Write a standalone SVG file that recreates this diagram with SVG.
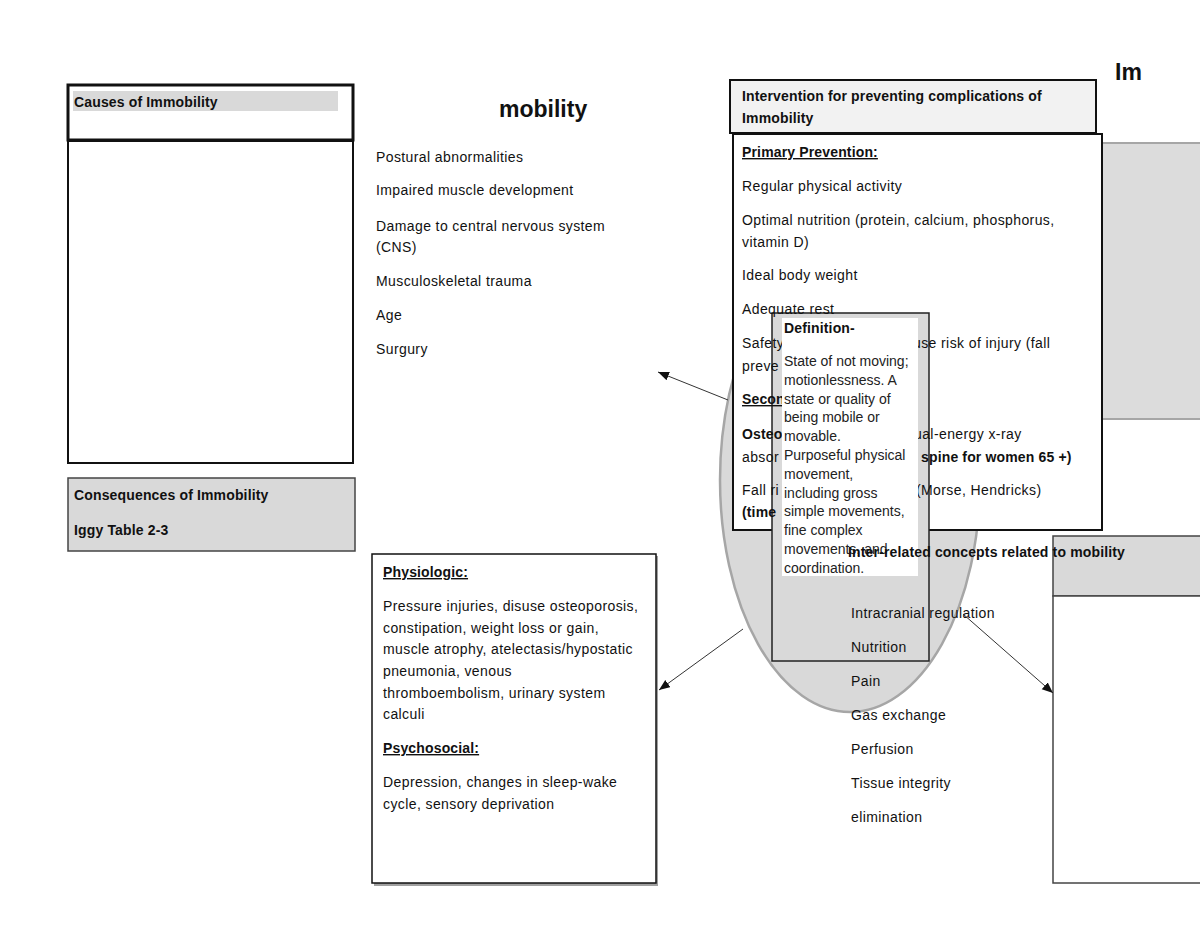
<svg xmlns="http://www.w3.org/2000/svg" width="1200" height="927" viewBox="0 0 1200 927">
<defs>
<style>
.t{font-family:"Liberation Sans",Arial,sans-serif;font-size:14px;letter-spacing:0.4px;fill:#111}
.b{font-family:"Liberation Sans",Arial,sans-serif;font-size:14px;letter-spacing:0.15px;font-weight:bold;fill:#111}
.u{text-decoration:underline}
.d{font-family:"Liberation Sans",Arial,sans-serif;font-size:14px;fill:#222}
.h{font-family:"Liberation Sans",Arial,sans-serif;font-size:23px;font-weight:bold;fill:#111}
.box{fill:#fff;stroke:#111;stroke-width:2}
.gray{fill:#d9d9d9;stroke:#444;stroke-width:1.5}
.conn{stroke:#333;stroke-width:1;fill:none;marker-end:url(#ah)}
</style>
<marker id="ah" markerUnits="userSpaceOnUse" markerWidth="12" markerHeight="10" refX="11" refY="4.5" orient="auto">
<path d="M0,0 L11,4.5 L0,9 z" fill="#111"/>
</marker>
</defs>
<rect width="1200" height="927" fill="#fff"/>

<g id="title">
<text class="h" x="499" y="117">mobility</text>
<text class="h" x="1115" y="80">Im</text>
</g>

<g id="causes-header">
<rect x="68" y="85" width="285" height="55" fill="#fff" stroke="#111" stroke-width="3"/>
<rect x="73" y="91" width="265" height="20" fill="#d9d9d9"/>
<text class="b" x="74" y="107">Causes of Immobility</text>
</g>
<g id="causes-body">
<rect class="box" x="68" y="141" width="285" height="322"/>
</g>

<g id="consequences">
<rect class="gray" x="68" y="478" width="287" height="73"/>
<text class="b" x="74" y="500">Consequences of Immobility</text>
<text class="b" x="74" y="535">Iggy Table 2-3</text>
</g>

<g id="causes-list">
<text class="t" x="376" y="162">Postural abnormalities</text>
<text class="t" x="376" y="195">Impaired muscle development</text>
<text class="t" x="376" y="231">Damage to central nervous system</text>
<text class="t" x="376" y="252">(CNS)</text>
<text class="t" x="376" y="286">Musculoskeletal trauma</text>
<text class="t" x="376" y="320">Age</text>
<text class="t" x="376" y="354">Surgury</text>
</g>

<g id="physiologic">
<rect x="374" y="556" width="284" height="330" fill="#a0a0a0"/>
<rect x="372" y="554" width="284" height="329" fill="#fff" stroke="#111" stroke-width="1.5"/>
<text class="b u" x="383" y="577">Physiologic:</text>
<text class="t" x="383" y="611">Pressure injuries, disuse osteoporosis,</text>
<text class="t" x="383" y="633">constipation, weight loss or gain,</text>
<text class="t" x="383" y="654">muscle atrophy, atelectasis/hypostatic</text>
<text class="t" x="383" y="676">pneumonia, venous</text>
<text class="t" x="383" y="698">thromboembolism, urinary system</text>
<text class="t" x="383" y="719">calculi</text>
<text class="b u" x="383" y="753">Psychosocial:</text>
<text class="t" x="383" y="787">Depression, changes in sleep-wake</text>
<text class="t" x="383" y="809">cycle, sensory deprivation</text>
</g>

<g id="top-right-box">
<rect x="1090" y="143" width="125" height="276" fill="#dcdcdc" stroke="#a6a6a6" stroke-width="2"/>
</g>

<g id="center-ellipse">
<ellipse cx="850" cy="480" rx="130" ry="232" fill="#d9d9d9" stroke="#a6a6a6" stroke-width="2.5"/>
</g>

<g id="intervention">
<rect x="730" y="80" width="366" height="53" fill="#f2f2f2" stroke="#111" stroke-width="2"/>
<text class="b" x="742" y="101">Intervention for preventing complications of</text>
<text class="b" x="742" y="123">Immobility</text>
<rect class="box" x="733" y="134" width="369" height="396"/>
<rect x="772" y="313" width="157" height="348" fill="#d9d9d9" stroke="#222" stroke-width="1.5"/>
<text class="b u" x="742" y="157">Primary Prevention:</text>
<text class="t" x="742" y="191">Regular physical activity</text>
<text class="t" x="742" y="225">Optimal nutrition (protein, calcium, phosphorus,</text>
<text class="t" x="742" y="247">vitamin D)</text>
<text class="t" x="742" y="280">Ideal body weight</text>
<text class="t" x="742" y="314">Adequate rest</text>
<text class="t" x="742" y="348">Safety</text>
<text class="t" x="913" y="348">use risk of injury (fall</text>
<text class="t" x="742" y="371">preve</text>
<text class="b u" x="742" y="404">Secon</text>
<text class="b" x="742" y="439">Osteo</text>
<text class="t" x="914" y="439">ual-energy x-ray</text>
<text class="t" x="742" y="462">absor</text>
<text class="b" x="921" y="462">spine for women 65 +)</text>
<text class="t" x="742" y="495">Fall ri</text>
<text class="t" x="916" y="495">(Morse, Hendricks)</text>
<text class="b" x="742" y="517">(time</text>
</g>

<g id="definition">
<rect x="782" y="318" width="136" height="258" fill="#fff"/>
<text class="b" x="784" y="333">Definition-</text>
<text class="d" x="784" y="366">State of not moving;</text>
<text class="d" x="784" y="384.8">motionlessness. A</text>
<text class="d" x="784" y="403.6">state or quality of</text>
<text class="d" x="784" y="422.4">being mobile or</text>
<text class="d" x="784" y="441.2">movable.</text>
<text class="d" x="784" y="460">Purposeful physical</text>
<text class="d" x="784" y="478.8">movement,</text>
<text class="d" x="784" y="497.6">including gross</text>
<text class="d" x="784" y="516.4">simple movements,</text>
<text class="d" x="784" y="535.2">fine complex</text>
<text class="d" x="784" y="554">movements, and</text>
<text class="d" x="784" y="572.8">coordination.</text>
</g>

<g id="interrelated-box">
<rect class="gray" x="1053" y="536" width="160" height="60"/>
<rect x="1053" y="596" width="160" height="287" fill="#fff" stroke="#444" stroke-width="1.5"/>
</g>

<g id="interrelated">
<text class="b" x="848" y="557">Inter-related concepts related to mobility</text>
<text class="t" x="851" y="618">Intracranial regulation</text>
<text class="t" x="851" y="652">Nutrition</text>
<text class="t" x="851" y="686">Pain</text>
<text class="t" x="851" y="720">Gas exchange</text>
<text class="t" x="851" y="754">Perfusion</text>
<text class="t" x="851" y="788">Tissue integrity</text>
<text class="t" x="851" y="822">elimination</text>
</g>

<g id="connectors">
<line class="conn" x1="728" y1="400" x2="658" y2="372"/>
<line class="conn" x1="743" y1="629" x2="659" y2="690"/>
<line class="conn" x1="963" y1="614" x2="1053" y2="693"/>
</g>
</svg>
